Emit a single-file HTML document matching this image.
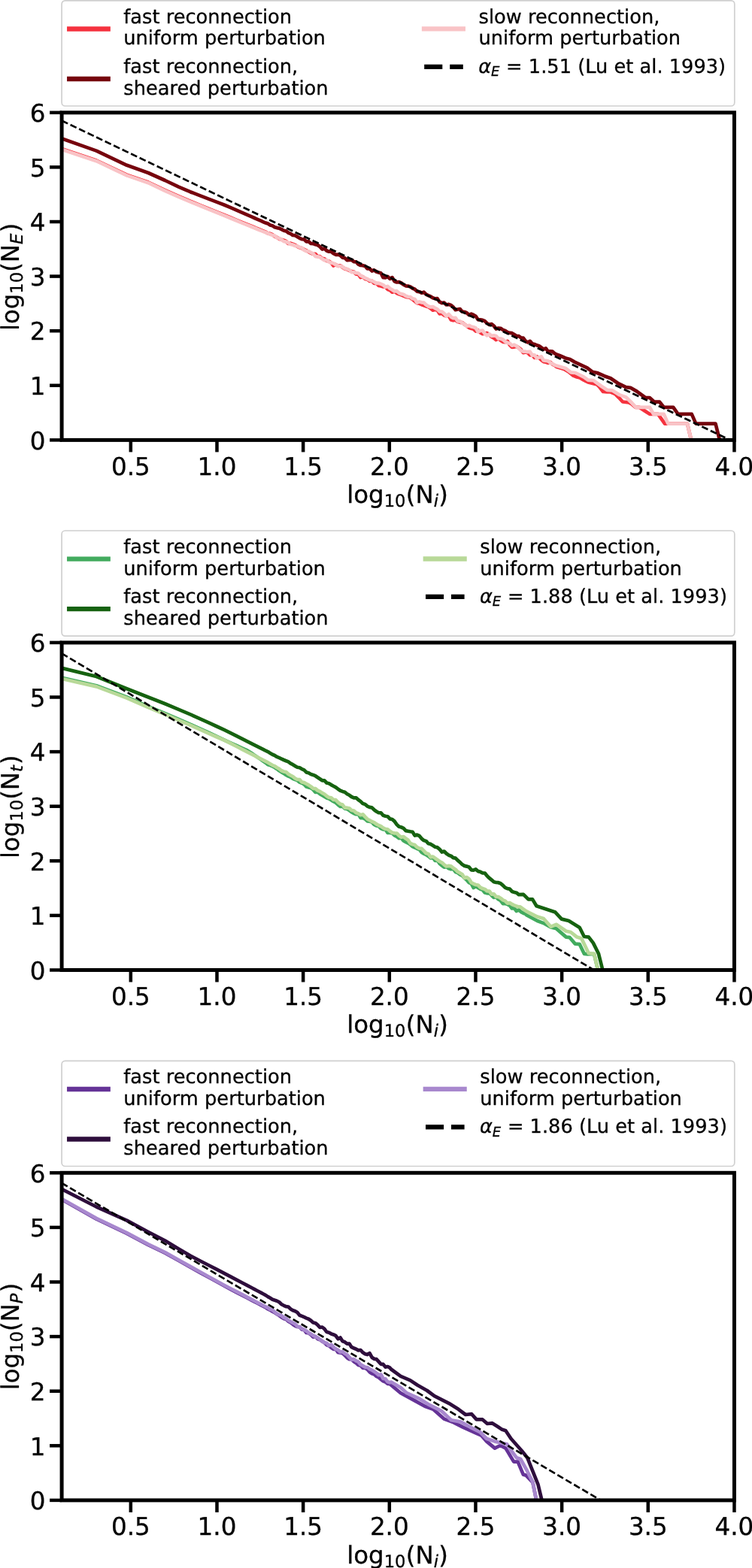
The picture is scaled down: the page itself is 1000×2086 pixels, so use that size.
<!DOCTYPE html>
<html><head><meta charset="utf-8"><title>figure</title>
<style>
html,body{margin:0;padding:0;background:#fff;}
svg{display:block;}
text{font-family:"DejaVu Sans", "Liberation Sans", sans-serif;fill:#000;text-rendering:geometricPrecision;stroke:#000;stroke-width:0.3px;}
</style></head>
<body>
<svg width="1000" height="2086" viewBox="0 0 1000 2086">
<rect x="0" y="0" width="1000" height="2086" fill="#fff"/>
<clipPath id="c0"><rect x="82.10" y="149.80" width="894.35" height="435.60"/></clipPath>
<g clip-path="url(#c0)" fill="none" stroke-width="4.70" stroke-linejoin="round" stroke-linecap="square">
<polyline points="59.2,190.4 128.2,213.5 168.6,232.7 197.2,242.5 219.5,253.2 237.6,261.1 253.0,267.7 266.3,273.1 278.0,277.9 288.5,282.1 298.0,286.0 306.6,289.5 314.6,292.8 322.0,295.9 328.9,298.7 335.3,301.3 338.3,302.5 341.3,303.8 344.3,305.0 347.3,306.2 350.3,307.4 353.3,308.6 356.3,310.4 359.3,310.8 362.3,312.2 365.3,314.5 368.3,315.8 371.3,317.7 374.4,318.8 377.4,319.7 380.4,321.0 383.4,324.0 386.4,323.7 389.4,324.8 392.4,325.9 395.4,327.9 398.4,329.3 401.4,330.3 404.4,331.8 407.4,333.3 410.4,335.0 413.4,336.8 416.4,337.8 419.4,337.9 422.4,341.2 425.4,341.2 428.4,343.7 431.4,344.2 434.4,346.9 437.4,347.5 440.4,349.6 443.4,353.5 446.4,351.9 449.5,353.9 452.5,353.3 455.5,355.5 458.5,357.6 461.5,358.2 464.5,359.9 467.5,361.1 470.5,361.6 473.5,364.7 476.5,364.8 479.5,369.1 482.5,368.2 485.5,370.9 488.5,371.6 491.5,374.0 494.5,373.7 497.5,376.8 500.5,376.9 503.5,379.9 506.5,380.5 509.5,381.4 512.5,381.7 515.5,384.9 518.5,385.9 521.6,388.7 524.6,387.6 527.6,390.0 530.6,391.3 533.6,392.3 536.6,393.6 539.6,394.9 542.6,395.3 545.6,396.1 548.6,398.2 551.6,400.7 554.6,403.1 557.6,403.8 560.6,405.2 563.6,406.2 566.6,407.4 569.6,408.1 572.6,410.2 575.6,412.7 578.6,411.7 581.6,412.8 584.6,417.5 587.6,416.9 590.6,419.3 593.6,420.7 596.7,419.8 599.7,425.5 602.7,426.3 605.7,425.8 608.7,428.0 611.7,428.8 614.7,429.1 617.7,431.5 620.7,433.6 623.7,436.0 626.7,437.0 629.7,437.7 632.7,440.6 635.7,439.3 638.7,442.4 641.7,444.1 644.7,443.6 647.7,443.1 650.7,445.4 653.7,448.1 656.7,449.7 659.7,452.1 662.7,450.3 665.7,452.8 668.8,454.9 671.8,455.1 674.8,453.8 677.8,458.8 680.8,461.9 683.8,461.6 686.8,460.7 689.8,462.8 692.8,465.0 695.8,469.2 698.8,468.4 701.8,469.3 704.8,472.5 707.8,472.0 710.8,475.9 713.8,474.3 716.8,476.0 719.8,478.9 722.8,481.2 725.8,481.8 728.8,482.9 731.8,481.8 734.8,484.6 737.8,486.2 740.0,488.0 750.0,491.0 756.0,494.5 762.0,499.5 767.0,501.5 771.0,502.5 776.0,505.5 782.0,508.5 790.0,510.5 794.0,511.5 797.0,514.5 802.0,521.0 807.0,521.5 812.0,521.5 818.0,524.0 823.0,529.0 828.0,534.5 836.0,535.5 840.0,537.5 845.0,541.8 850.0,541.8 858.0,547.0 864.0,550.9 875.0,550.9 884.0,563.6 914.0,563.6 919.2,585.5 990.0,585.5" stroke="#f5323e"/>
<polyline points="59.2,176.3 128.2,200.6 168.6,219.8 197.2,230.0 219.5,240.0 237.6,248.7 253.0,255.2 266.3,260.4 278.0,264.9 288.5,268.9 298.0,272.5 306.6,276.2 314.6,279.7 322.0,282.9 328.9,285.9 335.3,288.7 338.3,290.0 341.3,291.3 344.3,292.6 347.3,293.9 350.3,295.3 353.3,296.6 356.3,297.6 359.3,299.4 362.3,300.3 365.3,302.2 368.3,303.1 371.3,303.6 374.4,305.1 377.4,306.7 380.4,307.4 383.4,309.7 386.4,310.9 389.4,313.0 392.4,313.2 395.4,314.9 398.4,316.8 401.4,318.2 404.4,318.3 407.4,321.4 410.4,321.2 413.4,323.9 416.4,324.1 419.4,325.3 422.4,326.0 425.4,328.2 428.4,331.5 431.4,330.4 434.4,333.5 437.4,334.7 440.4,334.6 443.4,337.2 446.4,338.8 449.5,338.6 452.5,339.7 455.5,342.6 458.5,343.2 461.5,346.2 464.5,345.9 467.5,345.7 470.5,348.1 473.5,348.3 476.5,351.7 479.5,353.0 482.5,353.2 485.5,354.0 488.5,357.3 491.5,357.3 494.5,360.5 497.5,359.3 500.5,361.5 503.5,362.5 506.5,363.2 509.5,369.2 512.5,369.3 515.5,367.8 518.5,370.9 521.6,369.1 524.6,374.3 527.6,375.5 530.6,375.1 533.6,376.5 536.6,378.6 539.6,380.3 542.6,380.6 545.6,381.4 548.6,383.5 551.6,384.7 554.6,387.6 557.6,388.2 560.6,389.7 563.6,388.7 566.6,391.7 569.6,393.1 572.6,394.4 575.6,396.3 578.6,397.4 581.6,397.2 584.6,401.7 587.6,403.1 590.6,402.7 593.6,405.5 596.7,404.9 599.7,405.9 602.7,408.6 605.7,412.2 608.7,411.5 611.7,411.1 614.7,414.7 617.7,415.0 620.7,416.2 623.7,419.0 626.7,417.7 629.7,419.0 632.7,420.8 635.7,425.3 638.7,425.4 641.7,425.8 644.7,427.1 647.7,430.1 650.7,432.1 653.7,431.0 656.7,433.5 659.7,437.5 662.7,436.6 665.7,436.8 668.8,438.9 671.8,440.0 674.8,442.0 677.8,442.9 680.8,443.2 683.8,445.0 686.8,447.0 689.8,447.0 692.8,449.4 695.8,449.6 698.8,453.7 701.8,455.5 704.8,453.9 707.8,457.4 710.8,458.0 713.8,459.3 716.8,460.3 719.8,462.3 722.8,464.7 725.8,463.3 728.8,467.5 731.8,467.3 734.8,467.7 737.8,470.4 740.0,471.4 746.0,473.8 753.2,476.8 758.0,478.0 765.2,482.2 780.8,489.4 788.0,494.8 794.0,496.0 803.6,500.2 812.0,503.2 821.6,509.8 832.4,515.2 838.4,515.8 846.8,520.6 858.2,529.0 863.8,529.0 870.1,534.7 877.1,534.7 882.7,541.8 895.3,541.8 901.6,550.9 919.8,550.9 925.4,563.6 951.5,563.6 957.0,585.5 990.0,585.5" stroke="#76040d"/>
<polyline points="59.2,191.1 128.2,214.2 168.6,233.4 197.2,243.2 219.5,253.9 237.6,261.8 253.0,268.4 266.3,273.8 278.0,278.6 288.5,282.8 298.0,286.7 306.6,290.2 314.6,293.5 322.0,296.6 328.9,299.4 335.3,302.0 338.3,303.2 341.3,304.5 344.3,305.7 347.3,306.9 350.3,308.1 353.3,309.3 356.3,310.5 359.3,311.7 362.3,312.9 365.3,313.6 368.3,316.2 371.3,317.1 374.4,318.9 377.4,321.1 380.4,321.5 383.4,323.1 386.4,325.0 389.4,325.6 392.4,327.0 395.4,327.5 398.4,329.0 401.4,329.8 404.4,332.7 407.4,334.2 410.4,334.3 413.4,336.1 416.4,337.4 419.4,341.1 422.4,341.4 425.4,342.1 428.4,344.2 431.4,346.3 434.4,345.9 437.4,348.4 440.4,349.6 443.4,350.3 446.4,352.2 449.5,353.8 452.5,354.0 455.5,354.9 458.5,357.2 461.5,357.8 464.5,359.2 467.5,362.2 470.5,362.1 473.5,363.2 476.5,363.5 479.5,366.7 482.5,368.2 485.5,369.9 488.5,371.2 491.5,372.8 494.5,373.6 497.5,374.9 500.5,376.8 503.5,376.7 506.5,377.8 509.5,379.1 512.5,381.8 515.5,380.9 518.5,383.8 521.6,385.5 524.6,387.4 527.6,387.2 530.6,389.8 533.6,391.1 536.6,391.8 539.6,393.8 542.6,394.8 545.6,395.0 548.6,397.3 551.6,398.0 554.6,402.6 557.6,401.4 560.6,402.3 563.6,402.6 566.6,405.6 569.6,407.4 572.6,408.4 575.6,408.1 578.6,410.0 581.6,411.4 584.6,414.4 587.6,414.7 590.6,417.1 593.6,420.8 596.7,418.0 599.7,421.4 602.7,423.2 605.7,422.9 608.7,427.4 611.7,427.4 614.7,429.6 617.7,431.4 620.7,433.9 623.7,432.9 626.7,434.5 629.7,435.2 632.7,436.5 635.7,441.4 638.7,440.0 641.7,439.7 644.7,443.9 647.7,446.4 650.7,444.4 653.7,446.8 656.7,446.4 659.7,447.0 662.7,450.4 665.7,450.5 668.8,451.7 671.8,454.4 674.8,456.1 677.8,456.7 680.8,459.7 683.8,458.7 686.8,460.4 689.8,463.3 692.8,466.4 695.8,467.6 698.8,467.7 701.8,468.2 704.8,467.9 707.8,472.7 710.8,472.3 713.8,476.6 716.8,475.4 719.8,474.4 722.8,479.5 725.8,479.8 728.8,480.4 731.8,482.7 734.8,484.0 737.8,485.8 740.0,486.4 752.0,490.0 759.2,495.4 765.2,496.0 776.0,501.4 782.0,505.6 789.2,506.2 800.0,514.0 807.2,518.8 814.4,519.4 824.0,525.4 832.4,528.4 840.0,535.8 845.6,541.8 864.0,541.8 869.0,550.9 882.8,550.9 888.4,563.6 914.0,563.6 919.2,585.5 990.0,585.5" stroke="#f9c3c6"/>
<line x1="82.10" y1="160.50" x2="970.92" y2="585.40" stroke="#000" stroke-width="2.65" stroke-dasharray="8.90 3.85" stroke-linecap="butt"/>
</g>
<rect x="82.10" y="149.80" width="894.35" height="435.60" fill="none" stroke="#000" stroke-width="5.00" stroke-linejoin="miter"/>
<line x1="66.10" y1="585.40" x2="82.10" y2="585.40" stroke="#000" stroke-width="4.50"/>
<text x="60.60" y="597.60" text-anchor="end" font-size="32.60">0</text>
<line x1="66.10" y1="512.80" x2="82.10" y2="512.80" stroke="#000" stroke-width="4.50"/>
<text x="60.60" y="525.00" text-anchor="end" font-size="32.60">1</text>
<line x1="66.10" y1="440.20" x2="82.10" y2="440.20" stroke="#000" stroke-width="4.50"/>
<text x="60.60" y="452.40" text-anchor="end" font-size="32.60">2</text>
<line x1="66.10" y1="367.60" x2="82.10" y2="367.60" stroke="#000" stroke-width="4.50"/>
<text x="60.60" y="379.80" text-anchor="end" font-size="32.60">3</text>
<line x1="66.10" y1="295.00" x2="82.10" y2="295.00" stroke="#000" stroke-width="4.50"/>
<text x="60.60" y="307.20" text-anchor="end" font-size="32.60">4</text>
<line x1="66.10" y1="222.40" x2="82.10" y2="222.40" stroke="#000" stroke-width="4.50"/>
<text x="60.60" y="234.60" text-anchor="end" font-size="32.60">5</text>
<line x1="66.10" y1="149.80" x2="82.10" y2="149.80" stroke="#000" stroke-width="4.50"/>
<text x="60.60" y="162.00" text-anchor="end" font-size="32.60">6</text>
<line x1="173.83" y1="585.40" x2="173.83" y2="601.40" stroke="#000" stroke-width="4.50"/>
<text x="173.83" y="631.60" text-anchor="middle" font-size="32.60">0.5</text>
<line x1="288.49" y1="585.40" x2="288.49" y2="601.40" stroke="#000" stroke-width="4.50"/>
<text x="288.49" y="631.60" text-anchor="middle" font-size="32.60">1.0</text>
<line x1="403.15" y1="585.40" x2="403.15" y2="601.40" stroke="#000" stroke-width="4.50"/>
<text x="403.15" y="631.60" text-anchor="middle" font-size="32.60">1.5</text>
<line x1="517.81" y1="585.40" x2="517.81" y2="601.40" stroke="#000" stroke-width="4.50"/>
<text x="517.81" y="631.60" text-anchor="middle" font-size="32.60">2.0</text>
<line x1="632.47" y1="585.40" x2="632.47" y2="601.40" stroke="#000" stroke-width="4.50"/>
<text x="632.47" y="631.60" text-anchor="middle" font-size="32.60">2.5</text>
<line x1="747.13" y1="585.40" x2="747.13" y2="601.40" stroke="#000" stroke-width="4.50"/>
<text x="747.13" y="631.60" text-anchor="middle" font-size="32.60">3.0</text>
<line x1="861.79" y1="585.40" x2="861.79" y2="601.40" stroke="#000" stroke-width="4.50"/>
<text x="861.79" y="631.60" text-anchor="middle" font-size="32.60">3.5</text>
<line x1="976.45" y1="585.40" x2="976.45" y2="601.40" stroke="#000" stroke-width="4.50"/>
<text x="976.45" y="631.60" text-anchor="middle" font-size="32.60">4.0</text>
<text x="461.30" y="668.80" font-size="32.40">log<tspan font-size="22.68" dy="5.1">10</tspan><tspan dy="-5.1" dx="0.3">(N</tspan><tspan font-style="italic" font-size="22.68" dy="5.1">i</tspan><tspan dy="-5.1" dx="0.3">)</tspan></text>
<text transform="translate(24.5 368.30) rotate(-90)" text-anchor="middle" font-size="32.40">log<tspan font-size="22.68" dy="5.1">10</tspan><tspan dy="-5.1">(N</tspan><tspan font-style="italic" font-size="22.68" dy="5.1">E</tspan><tspan dy="-5.1" dx="1.40">)</tspan></text>
<rect x="82.1" y="0.90" width="894.7" height="140.1" rx="4.5" ry="4.5" fill="#fff" fill-opacity="0.8" stroke="#d0d0d0" stroke-width="1.7"/>
<line x1="92.2" y1="38.50" x2="143.7" y2="38.50" stroke="#f5323e" stroke-width="6.30" stroke-linecap="square"/>
<line x1="92.2" y1="105.00" x2="143.7" y2="105.00" stroke="#76040d" stroke-width="6.30" stroke-linecap="square"/>
<line x1="564.00" y1="38.40" x2="615.80" y2="38.40" stroke="#f9c3c6" stroke-width="6.30" stroke-linecap="square"/>
<line x1="564.20" y1="88.80" x2="615.80" y2="88.80" stroke="#000" stroke-width="6.30" stroke-dasharray="24.10 9.90"/>
<text x="164.30" y="30.50" font-size="25.70">fast reconnection</text>
<text x="164.30" y="58.90" font-size="25.70">uniform perturbation</text>
<text x="164.30" y="96.60" font-size="25.70">fast reconnection,</text>
<text x="164.30" y="125.60" font-size="25.70">sheared perturbation</text>
<text x="636.50" y="30.50" font-size="25.70">slow reconnection,</text>
<text x="636.50" y="58.90" font-size="25.70">uniform perturbation</text>
<text x="636.16" y="96.65" font-size="25.70" font-style="italic">α</text>
<text x="652.90" y="101.00" font-size="17.99" font-style="italic">E</text>
<text x="673.10" y="96.65" font-size="25.70">= 1.51 (Lu et al. 1993)</text>
<clipPath id="c1"><rect x="82.10" y="854.90" width="894.35" height="435.60"/></clipPath>
<g clip-path="url(#c1)" fill="none" stroke-width="4.70" stroke-linejoin="round" stroke-linecap="square">
<polyline points="59.2,896.6 128.2,912.2 168.6,927.4 197.2,940.0 219.5,949.2 237.6,956.9 253.0,963.6 266.3,969.6 278.0,975.0 288.5,979.9 298.0,984.4 306.6,988.3 314.6,992.0 322.0,995.3 328.9,998.5 335.3,1002.6 338.3,1004.6 341.3,1006.6 344.3,1008.6 347.3,1010.6 350.3,1012.7 353.3,1014.7 356.3,1017.3 359.3,1018.0 362.3,1019.4 365.3,1021.0 368.3,1023.0 371.3,1025.3 374.4,1027.1 377.4,1028.9 380.4,1031.0 383.4,1032.6 386.4,1033.7 389.4,1035.8 392.4,1037.1 395.4,1038.1 398.4,1040.6 401.4,1041.8 404.4,1043.4 407.4,1046.5 410.4,1047.4 413.4,1048.3 416.4,1050.4 419.4,1053.9 422.4,1053.8 425.4,1056.3 428.4,1058.0 431.4,1059.7 434.4,1061.5 437.4,1062.4 440.4,1064.2 443.4,1066.2 446.4,1067.8 449.5,1070.6 452.5,1073.0 455.5,1072.6 458.5,1075.7 461.5,1076.1 464.5,1078.1 467.5,1080.2 470.5,1082.1 473.5,1083.2 476.5,1082.8 479.5,1088.1 482.5,1088.2 485.5,1089.5 488.5,1092.3 491.5,1092.7 494.5,1093.6 497.5,1096.9 500.5,1098.5 503.5,1099.0 506.5,1102.1 509.5,1103.3 512.5,1103.5 515.5,1107.8 518.5,1108.0 521.6,1108.4 524.6,1111.4 527.6,1112.8 530.6,1115.2 533.6,1114.7 536.6,1118.5 539.6,1120.1 542.6,1121.6 545.6,1123.5 548.6,1126.1 551.6,1127.5 554.6,1129.0 557.6,1130.1 560.6,1133.8 563.6,1135.7 566.6,1137.0 569.6,1138.9 572.6,1141.4 575.6,1140.4 578.6,1145.0 581.6,1144.4 584.6,1148.9 587.6,1151.3 590.6,1153.6 593.6,1152.9 596.7,1155.3 599.7,1156.3 602.7,1155.8 605.7,1160.0 608.7,1161.1 611.7,1163.5 614.7,1165.0 617.7,1168.2 620.7,1170.7 623.7,1174.2 626.7,1175.7 629.7,1181.0 632.7,1179.1 635.7,1180.9 638.7,1182.7 641.7,1183.7 644.7,1187.5 647.7,1188.3 650.7,1188.2 653.7,1191.2 656.7,1193.9 659.7,1193.3 662.7,1196.5 665.7,1198.0 668.8,1202.1 671.8,1202.1 674.8,1203.1 677.8,1204.6 680.8,1208.5 683.8,1208.0 686.8,1212.1 689.8,1210.2 692.8,1213.1 695.8,1214.7 698.8,1215.9 700.0,1217.2 714.4,1225.0 724.0,1228.6 732.4,1233.4 739.6,1235.2 752.8,1246.6 757.6,1247.2 764.8,1255.6 770.8,1256.2 776.8,1268.8 781.6,1269.4 790.0,1269.0 795.5,1292.0 990.0,1292.0" stroke="#42ab5e"/>
<polyline points="59.2,883.2 128.2,900.0 168.6,916.3 197.2,927.5 219.5,936.3 237.6,943.8 253.0,950.4 266.3,956.3 278.0,961.7 288.5,966.5 298.0,970.9 306.6,975.1 314.6,979.2 322.0,982.9 328.9,986.3 335.3,989.6 338.3,991.1 341.3,992.6 344.3,994.1 347.3,995.6 350.3,997.1 353.3,998.7 356.3,1000.1 359.3,1001.9 362.3,1003.8 365.3,1005.0 368.3,1006.9 371.3,1008.2 374.4,1009.6 377.4,1011.0 380.4,1012.2 383.4,1013.4 386.4,1015.7 389.4,1017.2 392.4,1019.1 395.4,1020.7 398.4,1021.3 401.4,1023.1 404.4,1024.4 407.4,1027.4 410.4,1028.2 413.4,1030.0 416.4,1030.9 419.4,1032.2 422.4,1034.3 425.4,1036.3 428.4,1038.3 431.4,1038.4 434.4,1041.5 437.4,1042.2 440.4,1044.1 443.4,1045.8 446.4,1047.4 449.5,1049.7 452.5,1051.7 455.5,1052.9 458.5,1053.7 461.5,1056.2 464.5,1057.8 467.5,1060.0 470.5,1061.3 473.5,1061.4 476.5,1064.0 479.5,1066.1 482.5,1069.1 485.5,1069.9 488.5,1072.6 491.5,1073.9 494.5,1074.4 497.5,1077.3 500.5,1079.5 503.5,1081.2 506.5,1081.3 509.5,1084.8 512.5,1085.7 515.5,1086.2 518.5,1089.4 521.6,1090.0 524.6,1092.6 527.6,1096.9 530.6,1099.8 533.6,1100.5 536.6,1101.9 539.6,1105.1 542.6,1105.7 545.6,1106.3 548.6,1106.8 551.6,1111.6 554.6,1110.6 557.6,1111.9 560.6,1115.6 563.6,1118.1 566.6,1118.9 569.6,1122.3 572.6,1122.9 575.6,1124.8 578.6,1126.7 581.6,1127.4 584.6,1129.8 587.6,1133.5 590.6,1132.5 593.6,1135.5 596.7,1137.7 599.7,1138.7 602.7,1141.1 605.7,1141.6 608.7,1144.7 611.7,1147.1 614.7,1150.1 617.7,1151.9 620.7,1152.6 623.7,1153.5 626.7,1157.3 629.7,1157.7 632.7,1156.4 635.7,1159.1 638.7,1159.8 641.7,1161.3 644.7,1161.5 647.7,1165.3 650.7,1168.2 653.7,1170.6 656.7,1173.3 659.7,1174.0 662.7,1174.2 665.7,1175.3 668.8,1177.9 671.8,1180.9 674.8,1182.2 677.8,1182.6 680.8,1185.9 683.8,1186.9 686.8,1187.7 689.8,1190.1 696.0,1189.8 702.6,1196.4 708.1,1196.4 713.4,1205.2 738.4,1213.6 746.8,1222.6 756.4,1225.0 770.8,1234.0 776.8,1246.0 782.8,1246.6 788.8,1254.4 796.0,1268.8 800.8,1288.0 801.5,1292.0 990.0,1292.0" stroke="#166210"/>
<polyline points="59.2,897.8 128.2,913.4 168.6,928.6 197.2,941.2 219.5,950.4 237.6,958.1 253.0,964.7 266.3,970.6 278.0,975.8 288.5,980.5 298.0,984.6 306.6,988.9 314.6,993.0 322.0,996.8 328.9,1000.4 335.3,1003.7 338.3,1005.2 341.3,1006.8 344.3,1008.3 347.3,1009.8 350.3,1011.4 353.3,1012.9 356.3,1014.4 359.3,1016.2 362.3,1018.1 365.3,1019.3 368.3,1021.3 371.3,1022.9 374.4,1025.3 377.4,1026.5 380.4,1027.1 383.4,1029.8 386.4,1031.5 389.4,1033.0 392.4,1035.5 395.4,1037.0 398.4,1037.2 401.4,1040.5 404.4,1041.1 407.4,1042.8 410.4,1044.4 413.4,1046.4 416.4,1048.8 419.4,1049.1 422.4,1051.6 425.4,1052.9 428.4,1054.9 431.4,1056.5 434.4,1059.0 437.4,1060.9 440.4,1061.3 443.4,1064.0 446.4,1064.2 449.5,1067.4 452.5,1069.7 455.5,1070.6 458.5,1074.6 461.5,1074.7 464.5,1075.3 467.5,1078.0 470.5,1078.6 473.5,1081.3 476.5,1082.4 479.5,1084.2 482.5,1083.4 485.5,1086.7 488.5,1089.7 491.5,1091.3 494.5,1093.0 497.5,1094.1 500.5,1096.4 503.5,1098.0 506.5,1099.2 509.5,1101.4 512.5,1102.8 515.5,1103.3 518.5,1105.8 521.6,1107.8 524.6,1108.4 527.6,1108.5 530.6,1111.6 533.6,1113.8 536.6,1113.0 539.6,1115.6 542.6,1117.5 545.6,1122.0 548.6,1123.2 551.6,1124.1 554.6,1127.2 557.6,1128.6 560.6,1128.9 563.6,1131.9 566.6,1135.0 569.6,1135.9 572.6,1140.3 575.6,1139.6 578.6,1141.6 581.6,1143.8 584.6,1146.0 587.6,1147.6 590.6,1150.3 593.6,1152.5 596.7,1151.9 599.7,1152.3 602.7,1154.8 605.7,1156.7 608.7,1159.8 611.7,1161.4 614.7,1163.2 617.7,1168.0 620.7,1167.0 623.7,1169.3 626.7,1174.1 629.7,1175.8 632.7,1177.0 635.7,1177.5 638.7,1180.6 641.7,1182.1 644.7,1182.9 647.7,1185.3 650.7,1185.5 653.7,1189.6 656.7,1189.3 659.7,1193.0 662.7,1193.1 665.7,1194.9 668.8,1197.4 671.8,1198.6 674.8,1201.6 677.8,1201.1 680.8,1203.0 683.8,1204.4 686.8,1205.5 689.8,1206.5 691.6,1206.3 700.0,1212.4 714.4,1219.6 722.8,1222.0 732.4,1232.8 739.6,1229.8 752.8,1238.8 758.8,1240.0 767.2,1246.6 773.2,1248.4 782.8,1268.2 790.0,1268.8 795.5,1292.0 990.0,1292.0" stroke="#b8d998"/>
<line x1="82.10" y1="869.30" x2="789.78" y2="1290.50" stroke="#000" stroke-width="2.65" stroke-dasharray="8.90 3.85" stroke-linecap="butt"/>
</g>
<rect x="82.10" y="854.90" width="894.35" height="435.60" fill="none" stroke="#000" stroke-width="5.00" stroke-linejoin="miter"/>
<line x1="66.10" y1="1290.50" x2="82.10" y2="1290.50" stroke="#000" stroke-width="4.50"/>
<text x="60.60" y="1302.70" text-anchor="end" font-size="32.60">0</text>
<line x1="66.10" y1="1217.90" x2="82.10" y2="1217.90" stroke="#000" stroke-width="4.50"/>
<text x="60.60" y="1230.10" text-anchor="end" font-size="32.60">1</text>
<line x1="66.10" y1="1145.30" x2="82.10" y2="1145.30" stroke="#000" stroke-width="4.50"/>
<text x="60.60" y="1157.50" text-anchor="end" font-size="32.60">2</text>
<line x1="66.10" y1="1072.70" x2="82.10" y2="1072.70" stroke="#000" stroke-width="4.50"/>
<text x="60.60" y="1084.90" text-anchor="end" font-size="32.60">3</text>
<line x1="66.10" y1="1000.10" x2="82.10" y2="1000.10" stroke="#000" stroke-width="4.50"/>
<text x="60.60" y="1012.30" text-anchor="end" font-size="32.60">4</text>
<line x1="66.10" y1="927.50" x2="82.10" y2="927.50" stroke="#000" stroke-width="4.50"/>
<text x="60.60" y="939.70" text-anchor="end" font-size="32.60">5</text>
<line x1="66.10" y1="854.90" x2="82.10" y2="854.90" stroke="#000" stroke-width="4.50"/>
<text x="60.60" y="867.10" text-anchor="end" font-size="32.60">6</text>
<line x1="173.83" y1="1290.50" x2="173.83" y2="1306.50" stroke="#000" stroke-width="4.50"/>
<text x="173.83" y="1336.70" text-anchor="middle" font-size="32.60">0.5</text>
<line x1="288.49" y1="1290.50" x2="288.49" y2="1306.50" stroke="#000" stroke-width="4.50"/>
<text x="288.49" y="1336.70" text-anchor="middle" font-size="32.60">1.0</text>
<line x1="403.15" y1="1290.50" x2="403.15" y2="1306.50" stroke="#000" stroke-width="4.50"/>
<text x="403.15" y="1336.70" text-anchor="middle" font-size="32.60">1.5</text>
<line x1="517.81" y1="1290.50" x2="517.81" y2="1306.50" stroke="#000" stroke-width="4.50"/>
<text x="517.81" y="1336.70" text-anchor="middle" font-size="32.60">2.0</text>
<line x1="632.47" y1="1290.50" x2="632.47" y2="1306.50" stroke="#000" stroke-width="4.50"/>
<text x="632.47" y="1336.70" text-anchor="middle" font-size="32.60">2.5</text>
<line x1="747.13" y1="1290.50" x2="747.13" y2="1306.50" stroke="#000" stroke-width="4.50"/>
<text x="747.13" y="1336.70" text-anchor="middle" font-size="32.60">3.0</text>
<line x1="861.79" y1="1290.50" x2="861.79" y2="1306.50" stroke="#000" stroke-width="4.50"/>
<text x="861.79" y="1336.70" text-anchor="middle" font-size="32.60">3.5</text>
<line x1="976.45" y1="1290.50" x2="976.45" y2="1306.50" stroke="#000" stroke-width="4.50"/>
<text x="976.45" y="1336.70" text-anchor="middle" font-size="32.60">4.0</text>
<text x="461.30" y="1374.20" font-size="32.40">log<tspan font-size="22.68" dy="5.1">10</tspan><tspan dy="-5.1" dx="0.3">(N</tspan><tspan font-style="italic" font-size="22.68" dy="5.1">i</tspan><tspan dy="-5.1" dx="0.3">)</tspan></text>
<text transform="translate(24.5 1073.20) rotate(-90)" text-anchor="middle" font-size="32.40">log<tspan font-size="22.68" dy="5.1">10</tspan><tspan dy="-5.1">(N</tspan><tspan font-style="italic" font-size="22.68" dy="5.1">t</tspan><tspan dy="-5.1" dx="1.00">)</tspan></text>
<rect x="82.1" y="706.00" width="894.7" height="140.1" rx="4.5" ry="4.5" fill="#fff" fill-opacity="0.8" stroke="#d0d0d0" stroke-width="1.7"/>
<line x1="92.2" y1="743.60" x2="143.7" y2="743.60" stroke="#42ab5e" stroke-width="6.30" stroke-linecap="square"/>
<line x1="92.2" y1="810.10" x2="143.7" y2="810.10" stroke="#166210" stroke-width="6.30" stroke-linecap="square"/>
<line x1="565.80" y1="743.50" x2="617.60" y2="743.50" stroke="#b8d998" stroke-width="6.30" stroke-linecap="square"/>
<line x1="566.00" y1="793.90" x2="617.60" y2="793.90" stroke="#000" stroke-width="6.30" stroke-dasharray="24.10 9.90"/>
<text x="164.30" y="735.60" font-size="25.70">fast reconnection</text>
<text x="164.30" y="764.60" font-size="25.70">uniform perturbation</text>
<text x="164.30" y="801.70" font-size="25.70">fast reconnection,</text>
<text x="164.30" y="830.70" font-size="25.70">sheared perturbation</text>
<text x="638.30" y="735.60" font-size="25.70">slow reconnection,</text>
<text x="638.30" y="764.60" font-size="25.70">uniform perturbation</text>
<text x="637.96" y="801.75" font-size="25.70" font-style="italic">α</text>
<text x="654.70" y="806.10" font-size="17.99" font-style="italic">E</text>
<text x="674.90" y="801.75" font-size="25.70">= 1.88 (Lu et al. 1993)</text>
<clipPath id="c2"><rect x="82.10" y="1560.30" width="894.35" height="435.60"/></clipPath>
<g clip-path="url(#c2)" fill="none" stroke-width="4.70" stroke-linejoin="round" stroke-linecap="square">
<polyline points="59.2,1582.8 128.2,1621.7 168.6,1640.9 197.2,1656.2 219.5,1666.9 237.6,1677.0 253.0,1685.7 266.3,1693.1 278.0,1699.5 288.5,1705.3 298.0,1710.5 306.6,1715.1 314.6,1719.3 322.0,1723.1 328.9,1726.7 335.3,1730.1 338.3,1731.7 341.3,1733.2 344.3,1734.8 347.3,1736.4 350.3,1737.9 353.3,1739.5 356.3,1741.4 359.3,1743.0 362.3,1744.6 365.3,1746.3 368.3,1748.3 371.3,1750.1 374.4,1752.5 377.4,1754.2 380.4,1755.0 383.4,1757.9 386.4,1759.3 389.4,1761.7 392.4,1763.8 395.4,1765.0 398.4,1765.4 401.4,1768.7 404.4,1769.1 407.4,1773.0 410.4,1773.3 413.4,1775.5 416.4,1778.7 419.4,1778.0 422.4,1781.2 425.4,1782.2 428.4,1784.5 431.4,1786.1 434.4,1789.2 437.4,1790.3 440.4,1792.7 443.4,1794.8 446.4,1794.6 449.5,1799.2 452.5,1799.6 455.5,1800.2 458.5,1802.9 461.5,1806.2 464.5,1808.2 467.5,1808.5 470.5,1811.2 473.5,1813.3 476.5,1816.0 479.5,1816.7 482.5,1819.8 485.5,1819.7 488.5,1821.8 491.5,1825.2 494.5,1827.2 497.5,1828.3 500.5,1830.9 503.5,1832.4 506.5,1835.0 509.5,1837.4 512.5,1838.5 515.5,1840.8 518.5,1841.2 520.0,1842.5 532.8,1853.2 552.0,1863.6 564.8,1870.8 576.0,1874.8 590.4,1887.6 603.2,1892.4 616.0,1898.8 632.0,1906.0 640.0,1909.5 647.2,1917.6 658.0,1926.6 665.2,1923.0 672.4,1926.6 683.2,1944.6 688.6,1944.6 695.8,1961.7 699.4,1962.6 708.4,1972.0 712.9,1994.1 713.2,1998.0 990.0,1998.0" stroke="#653397"/>
<polyline points="59.2,1570.1 128.2,1605.5 168.6,1623.6 197.2,1639.0 219.5,1650.6 237.6,1661.4 253.0,1670.6 266.3,1677.5 278.0,1683.5 288.5,1688.9 298.0,1693.8 306.6,1698.3 314.6,1702.6 322.0,1706.5 328.9,1710.1 335.3,1713.5 338.3,1715.1 341.3,1716.7 344.3,1718.3 347.3,1719.9 350.3,1721.5 353.3,1723.1 356.3,1725.1 359.3,1726.8 362.3,1728.7 365.3,1729.7 368.3,1730.7 371.3,1732.3 374.4,1735.2 377.4,1736.8 380.4,1738.2 383.4,1738.5 386.4,1741.4 389.4,1743.2 392.4,1744.3 395.4,1746.1 398.4,1749.7 401.4,1750.9 404.4,1752.2 407.4,1753.6 410.4,1754.7 413.4,1756.7 416.4,1759.4 419.4,1760.2 422.4,1762.6 425.4,1766.0 428.4,1765.5 431.4,1767.8 434.4,1772.0 437.4,1772.7 440.4,1774.4 443.4,1775.4 446.4,1776.8 449.5,1781.2 452.5,1779.5 455.5,1784.3 458.5,1785.3 461.5,1787.6 464.5,1787.5 467.5,1792.2 470.5,1793.5 473.5,1794.7 476.5,1796.4 479.5,1796.0 482.5,1799.3 485.5,1801.2 488.5,1802.1 491.5,1800.2 494.5,1805.7 497.5,1807.8 500.5,1808.1 503.5,1811.4 506.5,1814.8 509.5,1814.9 512.5,1818.6 515.5,1818.0 518.5,1819.6 520.0,1821.5 532.8,1830.8 545.6,1836.4 555.2,1842.8 568.0,1850.0 577.6,1857.2 596.8,1866.8 609.6,1874.8 619.2,1882.0 627.2,1881.2 633.6,1888.4 641.6,1888.4 648.0,1894.0 654.4,1893.3 661.6,1897.8 667.0,1901.4 672.4,1903.2 679.6,1914.0 694.0,1930.2 701.2,1939.2 708.4,1957.2 715.6,1975.2 720.1,1994.1 720.5,1998.0 990.0,1998.0" stroke="#2e0e3c"/>
<polyline points="59.2,1582.0 128.2,1620.9 168.6,1640.1 197.2,1655.4 219.5,1666.1 237.6,1676.2 253.0,1684.9 266.3,1692.3 278.0,1698.7 288.5,1704.5 298.0,1709.7 306.6,1714.3 314.6,1718.4 322.0,1722.2 328.9,1725.8 335.3,1729.2 338.3,1730.7 341.3,1732.3 344.3,1733.8 347.3,1735.4 350.3,1737.0 353.3,1738.5 356.3,1739.9 359.3,1742.0 362.3,1742.8 365.3,1745.5 368.3,1747.8 371.3,1749.1 374.4,1750.4 377.4,1752.8 380.4,1754.1 383.4,1756.5 386.4,1758.2 389.4,1759.9 392.4,1761.3 395.4,1764.5 398.4,1765.6 401.4,1767.7 404.4,1769.2 407.4,1770.7 410.4,1773.0 413.4,1774.6 416.4,1776.6 419.4,1778.3 422.4,1779.7 425.4,1782.0 428.4,1783.9 431.4,1786.3 434.4,1786.8 437.4,1790.1 440.4,1789.0 443.4,1792.0 446.4,1794.7 449.5,1796.0 452.5,1798.8 455.5,1798.2 458.5,1800.7 461.5,1802.3 464.5,1805.6 467.5,1808.9 470.5,1808.1 473.5,1810.4 476.5,1811.7 479.5,1815.4 482.5,1816.9 485.5,1818.8 488.5,1819.0 491.5,1821.3 494.5,1822.7 497.5,1824.5 500.5,1826.6 503.5,1829.2 506.5,1828.5 509.5,1834.0 512.5,1834.3 515.5,1838.3 518.5,1839.3 520.0,1838.5 532.8,1846.0 540.8,1853.2 558.4,1861.2 571.2,1869.2 587.2,1877.2 600.0,1889.2 612.8,1891.6 625.6,1898.8 638.4,1905.2 647.2,1914.0 658.0,1917.6 674.2,1921.2 681.4,1932.0 686.8,1939.2 692.2,1941.0 701.2,1957.2 708.4,1971.6 712.9,1994.1 713.2,1998.0 990.0,1998.0" stroke="#a888ce"/>
<line x1="82.10" y1="1573.90" x2="798.75" y2="1995.90" stroke="#000" stroke-width="2.65" stroke-dasharray="8.90 3.85" stroke-linecap="butt"/>
</g>
<rect x="82.10" y="1560.30" width="894.35" height="435.60" fill="none" stroke="#000" stroke-width="5.00" stroke-linejoin="miter"/>
<line x1="66.10" y1="1995.90" x2="82.10" y2="1995.90" stroke="#000" stroke-width="4.50"/>
<text x="60.60" y="2008.10" text-anchor="end" font-size="32.60">0</text>
<line x1="66.10" y1="1923.30" x2="82.10" y2="1923.30" stroke="#000" stroke-width="4.50"/>
<text x="60.60" y="1935.50" text-anchor="end" font-size="32.60">1</text>
<line x1="66.10" y1="1850.70" x2="82.10" y2="1850.70" stroke="#000" stroke-width="4.50"/>
<text x="60.60" y="1862.90" text-anchor="end" font-size="32.60">2</text>
<line x1="66.10" y1="1778.10" x2="82.10" y2="1778.10" stroke="#000" stroke-width="4.50"/>
<text x="60.60" y="1790.30" text-anchor="end" font-size="32.60">3</text>
<line x1="66.10" y1="1705.50" x2="82.10" y2="1705.50" stroke="#000" stroke-width="4.50"/>
<text x="60.60" y="1717.70" text-anchor="end" font-size="32.60">4</text>
<line x1="66.10" y1="1632.90" x2="82.10" y2="1632.90" stroke="#000" stroke-width="4.50"/>
<text x="60.60" y="1645.10" text-anchor="end" font-size="32.60">5</text>
<line x1="66.10" y1="1560.30" x2="82.10" y2="1560.30" stroke="#000" stroke-width="4.50"/>
<text x="60.60" y="1572.50" text-anchor="end" font-size="32.60">6</text>
<line x1="173.83" y1="1995.90" x2="173.83" y2="2011.90" stroke="#000" stroke-width="4.50"/>
<text x="173.83" y="2042.10" text-anchor="middle" font-size="32.60">0.5</text>
<line x1="288.49" y1="1995.90" x2="288.49" y2="2011.90" stroke="#000" stroke-width="4.50"/>
<text x="288.49" y="2042.10" text-anchor="middle" font-size="32.60">1.0</text>
<line x1="403.15" y1="1995.90" x2="403.15" y2="2011.90" stroke="#000" stroke-width="4.50"/>
<text x="403.15" y="2042.10" text-anchor="middle" font-size="32.60">1.5</text>
<line x1="517.81" y1="1995.90" x2="517.81" y2="2011.90" stroke="#000" stroke-width="4.50"/>
<text x="517.81" y="2042.10" text-anchor="middle" font-size="32.60">2.0</text>
<line x1="632.47" y1="1995.90" x2="632.47" y2="2011.90" stroke="#000" stroke-width="4.50"/>
<text x="632.47" y="2042.10" text-anchor="middle" font-size="32.60">2.5</text>
<line x1="747.13" y1="1995.90" x2="747.13" y2="2011.90" stroke="#000" stroke-width="4.50"/>
<text x="747.13" y="2042.10" text-anchor="middle" font-size="32.60">3.0</text>
<line x1="861.79" y1="1995.90" x2="861.79" y2="2011.90" stroke="#000" stroke-width="4.50"/>
<text x="861.79" y="2042.10" text-anchor="middle" font-size="32.60">3.5</text>
<line x1="976.45" y1="1995.90" x2="976.45" y2="2011.90" stroke="#000" stroke-width="4.50"/>
<text x="976.45" y="2042.10" text-anchor="middle" font-size="32.60">4.0</text>
<text x="461.30" y="2079.90" font-size="32.40">log<tspan font-size="22.68" dy="5.1">10</tspan><tspan dy="-5.1" dx="0.3">(N</tspan><tspan font-style="italic" font-size="22.68" dy="5.1">i</tspan><tspan dy="-5.1" dx="0.3">)</tspan></text>
<text transform="translate(24.5 1778.00) rotate(-90)" text-anchor="middle" font-size="32.40">log<tspan font-size="22.68" dy="5.1">10</tspan><tspan dy="-5.1">(N</tspan><tspan font-style="italic" font-size="22.68" dy="5.1">P</tspan><tspan dy="-5.1" dx="1.20">)</tspan></text>
<rect x="82.1" y="1411.40" width="894.7" height="140.1" rx="4.5" ry="4.5" fill="#fff" fill-opacity="0.8" stroke="#d0d0d0" stroke-width="1.7"/>
<line x1="92.2" y1="1449.00" x2="143.7" y2="1449.00" stroke="#653397" stroke-width="6.30" stroke-linecap="square"/>
<line x1="92.2" y1="1515.50" x2="143.7" y2="1515.50" stroke="#2e0e3c" stroke-width="6.30" stroke-linecap="square"/>
<line x1="565.80" y1="1448.90" x2="617.60" y2="1448.90" stroke="#a888ce" stroke-width="6.30" stroke-linecap="square"/>
<line x1="566.00" y1="1499.30" x2="617.60" y2="1499.30" stroke="#000" stroke-width="6.30" stroke-dasharray="24.10 9.90"/>
<text x="164.30" y="1441.00" font-size="25.70">fast reconnection</text>
<text x="164.30" y="1470.10" font-size="25.70">uniform perturbation</text>
<text x="164.30" y="1507.10" font-size="25.70">fast reconnection,</text>
<text x="164.30" y="1536.10" font-size="25.70">sheared perturbation</text>
<text x="638.30" y="1441.00" font-size="25.70">slow reconnection,</text>
<text x="638.30" y="1470.10" font-size="25.70">uniform perturbation</text>
<text x="637.96" y="1507.15" font-size="25.70" font-style="italic">α</text>
<text x="654.70" y="1511.50" font-size="17.99" font-style="italic">E</text>
<text x="674.90" y="1507.15" font-size="25.70">= 1.86 (Lu et al. 1993)</text>
</svg>
</body></html>
